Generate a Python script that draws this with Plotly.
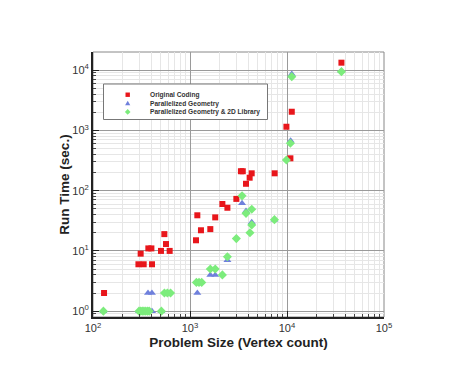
import numpy as np
import plotly.graph_objects as go

# Original Coding (red squares)
orig_x = [130, 310, 294, 333, 406, 372, 400, 502, 617, 544, 566, 1153, 1190, 1297, 1620, 1820,
          2157, 2430, 3005, 3350, 3500, 4325, 4120, 3780, 7460, 10840, 9860, 11200, 36400]
orig_y = [2, 9, 6, 6, 6, 11, 11, 10, 10, 19, 13, 15, 39, 22, 23, 36,
          60, 52, 73, 210, 210, 194, 164, 130, 194, 344, 1150, 2040, 13300]

# Parallelized Geometry (blue triangles)
par_x = [128, 298, 320, 345, 372, 406, 507, 369, 405, 1190, 1620, 1820, 2430, 3440, 3780, 4330,
         7420, 10900, 11200, 36400]
par_y = [1, 1, 1, 1, 1, 1, 1, 2, 2, 2, 4, 4, 7, 62, 46, 30,
         33, 675, 8650, 9700]

# Parallelized Geometry & 2D Library (green diamonds)
lib_x = [128, 298, 310, 322, 335, 350, 366, 380, 507, 545, 585, 630, 1164, 1239, 1320, 1620, 1820,
         2157, 2430, 3005, 3440, 3780, 4330, 4330, 4150, 7420, 10840, 9860, 11200, 36400]
lib_y = [1, 1, 1, 1, 1, 1, 1, 1, 1, 2, 2, 2, 3, 3, 3, 5, 5,
         4, 8, 16, 82, 42, 49, 27, 20, 33, 611, 322, 7800, 9440]

series_names = ["Original Coding", "Parallelized Geometry", "Parallelized Geometry & 2D Library"]
series_colors = ["#e8161b", "#6f80dc", "#7cec7c"]

x_tick_vals = [1e2, 1e3, 1e4, 1e5]
x_tick_text = ["10<sup>2</sup>", "10<sup>3</sup>", "10<sup>4</sup>", "10<sup>5</sup>"]
y_tick_vals = [1e0, 1e1, 1e2, 1e3, 1e4]
y_tick_text = ["10<sup>0</sup>", "10<sup>1</sup>", "10<sup>2</sup>", "10<sup>3</sup>", "10<sup>4</sup>"]

x_minor = [m * 10 ** e for e in range(2, 5) for m in range(2, 10)]
y_minor = [m * 10 ** e for e in range(-1, 5) for m in range(2, 10) if 0.8 <= m * 10 ** e <= 2e4]

FONT = "Arial, Liberation Sans, Helvetica, sans-serif"

W, H = 474, 366
OFF = 8  # page body margin
ML, MT = 85, 44
PW, PH = 291, 265
MR, MB = W - ML - PW, H - MT - PH


def px(xs):
    return (xs - OFF - ML) / PW


def py(ys):
    return (MT + PH - (ys - OFF)) / PH


fig = go.Figure()
fig.add_trace(go.Scatter(x=orig_x, y=orig_y, mode="markers", name=series_names[0],
                         marker=dict(symbol="square", size=6, color=series_colors[0])))
fig.add_trace(go.Scatter(x=par_x, y=par_y, mode="markers", name=series_names[1],
                         marker=dict(symbol="triangle-up", size=7, color=series_colors[1])))
fig.add_trace(go.Scatter(x=lib_x, y=lib_y, mode="markers", name=series_names[2],
                         marker=dict(symbol="diamond", size=7, color=series_colors[2])))

# manual legend (box, symbols, labels)
shapes = [dict(type="rect", xref="paper", yref="paper", x0=0, x1=1, y0=0, y1=1,
               line=dict(color="#888", width=1), layer="below"),
          dict(type="rect", xref="paper", yref="paper", x0=px(103.5), x1=px(267.5), y0=py(84), y1=py(119.5),
               line=dict(color="#777", width=1), fillcolor="white", layer="above")]
LEG_FS = 6.6
row_gap = LEG_FS * 1.3
mid = 103.3
row_y = [mid - row_gap, mid, mid + row_gap]
mx = 127.7
r = 2.2
sym_paths = [
    lambda cx, cy: f"M{px(cx - r)},{py(cy - r)} L{px(cx + r)},{py(cy - r)} L{px(cx + r)},{py(cy + r)} L{px(cx - r)},{py(cy + r)} Z",
    lambda cx, cy: f"M{px(cx)},{py(cy - 2.6)} L{px(cx + 2.6)},{py(cy + 2)} L{px(cx - 2.6)},{py(cy + 2)} Z",
    lambda cx, cy: f"M{px(cx)},{py(cy - 2.8)} L{px(cx + 2.8)},{py(cy)} L{px(cx)},{py(cy + 2.8)} L{px(cx - 2.8)},{py(cy)} Z",
]
for i, col in enumerate(series_colors):
    shapes.append(dict(type="path", xref="paper", yref="paper", path=sym_paths[i](mx, row_y[i]),
                       fillcolor=col, line=dict(width=0), layer="above"))
annotations = [dict(xref="paper", yref="paper", x=px(148), y=py(mid),
                    xanchor="left", yanchor="middle", align="left", showarrow=False,
                    text="<br>".join(f"<b>{n}</b>" for n in series_names),
                    font=dict(size=LEG_FS, family=FONT, color="#333"))]

fig.update_layout(
    width=W, height=H,
    margin=dict(l=ML, r=MR, t=MT, b=MB, autoexpand=False),
    paper_bgcolor="white", plot_bgcolor="white",
    font=dict(family=FONT, color="#222"),
    showlegend=False,
    xaxis=dict(type="log", range=[2, 5], tickmode="array", tickvals=x_tick_vals, ticktext=x_tick_text,
               automargin=False,
               ticks="inside", ticklen=6, tickwidth=1, tickcolor="#222",
               showline=True, linecolor="#222", linewidth=2, mirror=False,
               showgrid=True, gridcolor="#9a9a9a", gridwidth=1, zeroline=False,
               tickfont=dict(size=11, color="#333"),
               minor=dict(tickmode="array", tickvals=x_minor, ticks="inside", ticklen=3,
                          tickcolor="#444", showgrid=True, gridcolor="#e6e6e6", gridwidth=1),
               title=dict(text="<b>Problem Size (Vertex count)</b>", font=dict(size=13.5, color="#222"),
                          standoff=4)),
    yaxis=dict(type="log", range=[np.log10(0.8), np.log10(2e4)], tickmode="array",
               tickvals=y_tick_vals, ticktext=y_tick_text, automargin=False,
               ticks="inside", ticklen=6, tickwidth=1, tickcolor="#222",
               showline=True, linecolor="#222", linewidth=2, mirror=False,
               showgrid=True, gridcolor="#9a9a9a", gridwidth=1, zeroline=False,
               tickfont=dict(size=11, color="#333"),
               minor=dict(tickmode="array", tickvals=y_minor, ticks="inside", ticklen=3,
                          tickcolor="#444", showgrid=True, gridcolor="#e6e6e6", gridwidth=1),
               title=dict(text="<b>Run Time (sec.)</b>", font=dict(size=13.5, color="#222"),
                          standoff=0)),
    shapes=shapes,
    annotations=annotations,
)

fig.write_html("out.html")
